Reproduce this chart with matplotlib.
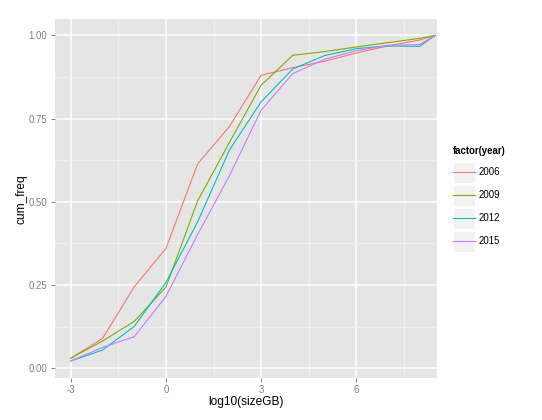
import matplotlib
matplotlib.use('Agg')
import matplotlib.pyplot as plt
from matplotlib.patches import Rectangle
from matplotlib.legend_handler import HandlerLine2D
from matplotlib.ticker import FixedLocator

plt.rcParams['font.family'] = ['Liberation Sans', 'DejaVu Sans']
plt.rcParams['axes.unicode_minus'] = False

# data
x = [-3, -2, -1, 0, 1, 2, 3, 4, 5, 6, 7, 8, 8.5]
years = ['2006', '2009', '2012', '2015']
cum_2006 = [0.030, 0.090, 0.245, 0.360, 0.614, 0.726, 0.880, 0.903, 0.922, 0.947, 0.968, 0.986, 1.0]
cum_2009 = [0.031, 0.082, 0.141, 0.244, 0.503, 0.678, 0.850, 0.940, 0.951, 0.965, 0.978, 0.991, 1.0]
cum_2012 = [0.022, 0.055, 0.126, 0.258, 0.440, 0.655, 0.800, 0.899, 0.939, 0.960, 0.968, 0.967, 1.0]
cum_2015 = [0.022, 0.063, 0.095, 0.216, 0.402, 0.578, 0.775, 0.885, 0.928, 0.954, 0.970, 0.972, 1.0]
series = [cum_2006, cum_2009, cum_2012, cum_2015]
colors = ['#F8766D', '#7CAE00', '#00BFC4', '#C77CFF']

W, H = 542, 420
fig = plt.figure(figsize=(W / 100, H / 100), dpi=100)
ax = fig.add_axes([55 / W, 1 - 378 / H, 382 / W, 359 / H])
ax.set_facecolor('#E5E5E5')
for s in ax.spines.values():
    s.set_visible(False)

for yr, vals, c in zip(years, series, colors):
    ax.plot(x, vals, color=c, lw=0.8, label=yr)

ax.set_xlim(-3.5, 8.55)
ax.set_ylim(-0.029, 1.049)
ax.set_xticks([-3, 0, 3, 6])
ax.set_yticks([0, 0.25, 0.5, 0.75, 1.0])
ax.set_yticklabels(['0.00', '0.25', '0.50', '0.75', '1.00'])
ax.xaxis.set_minor_locator(FixedLocator([-1.5, 1.5, 4.5, 7.5]))
ax.yaxis.set_minor_locator(FixedLocator([0.125, 0.375, 0.625, 0.875]))
ax.grid(which='major', color='white', lw=1.1)
ax.grid(which='minor', color='#F2F2F2', lw=0.6)
ax.set_axisbelow(True)
ax.tick_params(which='major', length=3, width=0.7, color='#7F7F7F',
               labelcolor='#7F7F7F', labelsize=6.9)
ax.tick_params(axis='y', pad=2.8)
ax.tick_params(axis='x', pad=1.8)
ax.tick_params(which='minor', length=0)

fig.text(246 / W, 1 - 402 / H, 'log10(sizeGB)', ha='center', va='center', fontsize=8.6)
fig.text(22 / W, 1 - 199 / H, 'cum_freq', ha='center', va='center', rotation=90, fontsize=8.6)


class KeyHandler(HandlerLine2D):
    # grey key box behind each legend line, like ggplot
    def create_artists(self, legend, orig_handle, xdescent, ydescent, width, height, fontsize, trans):
        arts = super().create_artists(legend, orig_handle, xdescent, ydescent, width, height, fontsize, trans)
        box = Rectangle((-xdescent, -ydescent), width, height, facecolor='#F2F2F2',
                        edgecolor='white', lw=0.8, transform=trans)
        for a in arts:
            a.set_ydata([height / 2 - ydescent] * len(a.get_xdata()))
        return [box] + list(arts)


handles, labels = ax.get_legend_handles_labels()
leg = ax.legend(handles, labels, title='factor(year)', loc='center left',
                bbox_to_anchor=(453 / W, 1 - 199 / H), bbox_transform=fig.transFigure,
                frameon=False, fontsize=6.9, handlelength=2.3, handleheight=3.0,
                labelspacing=0.2, handletextpad=0.35, borderpad=0, borderaxespad=0,
                handler_map={plt.Line2D: KeyHandler()})
leg.get_title().set_fontweight('bold')
leg.get_title().set_fontsize(6.9)
leg._legend_box.align = 'left'
leg._legend_box.sep = 4

fig.savefig('out.png', dpi=100)
